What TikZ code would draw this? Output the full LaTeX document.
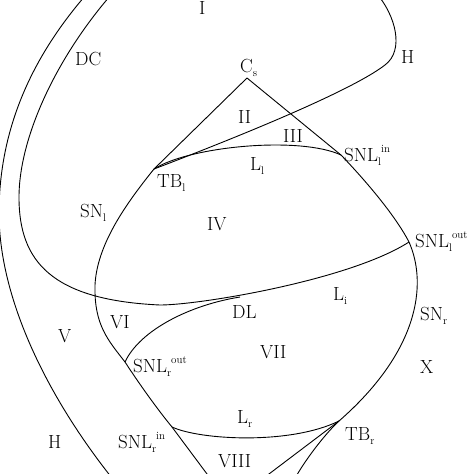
\documentclass[tikz,border=0pt]{standalone}
\newcommand\lb[3]{#1\raisebox{-4pt}{\fontsize{11}{11}\selectfont #2}\raisebox{9pt}{\fontsize{11}{11}\selectfont #3}}
\begin{document}
\begin{tikzpicture}[x=1pt,y=-1pt,
  curve/.style={line width=0.9pt, line join=round},
  lab/.style={anchor=base west, inner sep=0pt, font=\fontsize{19}{22}\selectfont}]
\useasboundingbox (0,0) rectangle (474,474);
\clip (0,0) rectangle (474,474);
% points
\coordinate (cs) at (247,78);
\coordinate (tbl) at (154,169);
\coordinate (snlin) at (341,155);
\coordinate (snlout) at (409,242);
\coordinate (tbr) at (339,421);
\coordinate (snrin) at (172,427);
\coordinate (snrout) at (125,362);
\coordinate (dl) at (240,297);
\coordinate (snlbend) at (95,285);
\coordinate (htop) at (377,-6);
\coordinate (hbend) at (385,65);
\coordinate (dco1) at (85,-4);
\coordinate (dco2) at (-1,210);
\coordinate (dco3) at (112,478);
\coordinate (dci1) at (110,-4);
\coordinate (dci2) at (19,200);
\coordinate (dci3) at (160,305);
\coordinate (b1) at (210,478);
\coordinate (b2) at (265,477);
\coordinate (b3) at (294,480);
% curves
\draw[curve] (cs) -- (tbl);
\draw[curve] (cs) -- (snlin);
\draw[curve] (htop) .. controls (395,15) and (405,50) .. (hbend)
  .. controls (350,92) and (230,140) .. (tbl);
\draw[curve] (tbl) .. controls (190,146) and (300,136) .. (snlin);
\draw[curve] (snlin) .. controls (365,180) and (395,215) .. (snlout)
  .. controls (428,285) and (418,352) .. (tbr)
  .. controls (325,434) and (305,460) .. (b3);
\draw[curve] (tbl) .. controls (125,205) and (97,245) .. (snlbend)
  .. controls (94,325) and (108,340) .. (snrout)
  .. controls (140,385) and (158,410) .. (snrin) -- (b1);
\draw[curve] (snrin) .. controls (200,440) and (290,445) .. (tbr);
\draw[curve] (tbr) -- (b2);
\draw[curve] (dci1) .. controls (55,60) and (18,140) .. (dci2)
  .. controls (20,260) and (50,300) .. (dci3)
  .. controls (200,305) and (350,280) .. (snlout);
\draw[curve] (dco1) .. controls (30,60) and (0,130) .. (dco2)
  .. controls (-2,300) and (50,400) .. (dco3);
\draw[curve] (dl) .. controls (190,305) and (140,330) .. (snrout);
% labels
\node[lab] (tI) at (199,14) {I};
\node[lab] (tDC) at (75,65) {DC};
\node[lab] (tCs) at (240,72) {\lb{C}{s}{}};
\node[lab] (tH1) at (401,63) {H};
\node[lab] (tII) at (238,123) {II};
\node[lab] (tIII) at (283,142) {III};
\node[lab] (tSNLlin) at (344,161) {\lb{SNL}{l}{in}};
\node[lab] (tLl) at (250,170) {\lb{L}{l}{}};
\node[lab] (tTBl) at (157,187) {\lb{TB}{l}{}};
\node[lab] (tSNl) at (80,217) {\lb{SN}{l}{}};
\node[lab] (tIV) at (207,230) {IV};
\node[lab] (tSNLlout) at (415,247) {\lb{SNL}{l}{out}};
\node[lab] (tLi) at (333,300) {\lb{L}{i}{}};
\node[lab] (tSNr) at (420,320) {\lb{SN}{r}{}};
\node[lab] (tDL) at (232,318) {DL};
\node[lab] (tVI) at (110,328) {VI};
\node[lab] (tV) at (58,342) {V};
\node[lab] (tVII) at (260,358) {VII};
\node[lab] (tSNLrout) at (133,372) {\lb{SNL}{r}{out}};
\node[lab] (tX) at (420,373) {X};
\node[lab] (tLr) at (237,423) {\lb{L}{r}{}};
\node[lab] (tTBr) at (345,440) {\lb{TB}{r}{}};
\node[lab] (tH2) at (48,448) {H};
\node[lab] (tSNLrin) at (118,448) {\lb{SNL}{r}{in}};
\node[lab] (tVIII) at (218,467) {VIII};
\end{tikzpicture}
\end{document}
